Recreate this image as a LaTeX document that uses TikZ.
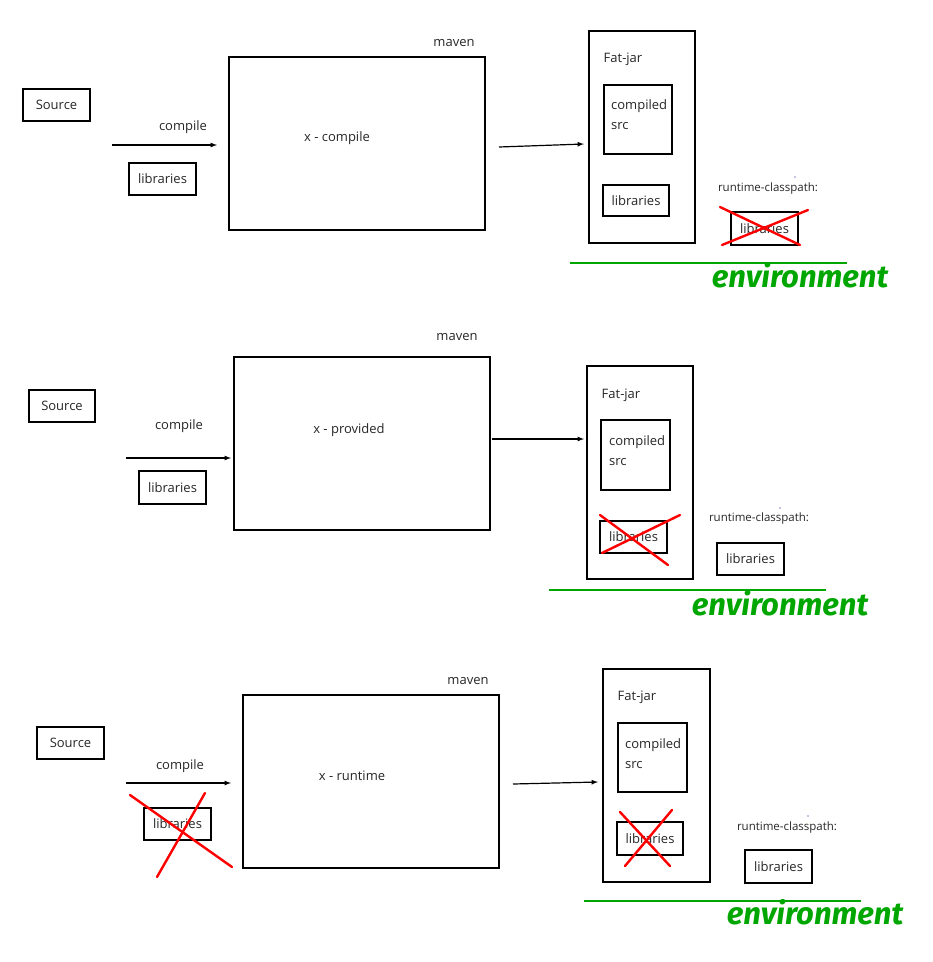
\documentclass[tikz,border=0pt]{standalone}
\usepackage{fontspec}
\setmainfont{Open Sans}
\newfontfamily\envfont{Fira Sans}
\begin{document}
\begin{tikzpicture}[x=1pt,y=-1pt,
  lbl/.style={font=\fontsize{13}{15}\selectfont, text=black!85, inner sep=0},
  twol/.style={font=\fontsize{13}{20}\selectfont, text=black!85, inner sep=0, align=left, anchor=north west},
  small/.style={font=\fontsize{11.5}{13}\selectfont, text=black!85, inner sep=0},
  bx/.style={draw, line width=1.2pt},
  thickbx/.style={draw, line width=2.2pt},
  arr/.style={-latex, line width=1.2pt},
  cross/.style={red, line width=2.4pt, line cap=round},
  grn/.style={draw=green!65!black, line width=1.2pt},
  env/.style={font=\envfont\itshape\bfseries\fontsize{31}{33}\selectfont, text=green!65!black, inner sep=0}]
\useasboundingbox (0,0) rectangle (933,962);

% Panel 1
\draw[bx] (23,89) rectangle (90,121); \node[lbl] (s1) at (56.5,105) {Source};
\node[lbl] (c1) at (183,127) {compile};
\coordinate (a1s) at (112,145); \coordinate (a1e) at (217,145);
\draw[arr] (a1s) -- (a1e);
\draw[bx] (129,163) rectangle (196,195); \node[lbl] (l1) at (162.5,179) {libraries};
\draw[bx] (229,57) rectangle (485,230); \node[lbl] (x1) at (337,138) {x - compile};
\node[lbl] (m1) at (454,43) {maven};
\coordinate (b1s) at (499,147); \coordinate (b1e) at (584,144);
\draw[arr] (b1s) -- (b1e);
\draw[bx] (589,31) rectangle (695,243); \node[lbl] (f1) at (623,59) {Fat-jar};
\draw[thickbx] (604,85) rectangle (672,154);
\node[twol] (cs1) at (611,99) {compiled\\src};
\draw[bx] (603,185) rectangle (669,216); \node[lbl] (fl1) at (636,201) {libraries};
\node[small] (r1) at (768,189) {runtime-classpath:};
\fill[blue!60!black] (795,177) circle (0.6);
\draw[bx] (731,212) rectangle (798,245); \node[lbl] (rl1) at (764.5,229) {libraries};
\draw[cross] (720,207) -- (800,245); \draw[cross] (722,245) -- (808,210);
\draw[grn] (570,263) -- (847,263);
\node[env] (e1) at (800,275) {environment};

% Panel 2
\draw[bx] (29,390) rectangle (95,422); \node[lbl] (s2) at (62,406) {Source};
\node[lbl] (c2) at (179,426) {compile};
\coordinate (a2s) at (126,458); \coordinate (a2e) at (231,458);
\draw[arr] (a2s) -- (a2e);
\draw[bx] (139,471) rectangle (206,504); \node[lbl] (l2) at (172.5,488) {libraries};
\draw[bx] (234,357) rectangle (490,530); \node[lbl] (x2) at (349,430) {x - provided};
\node[lbl] (m2) at (457,337) {maven};
\coordinate (b2s) at (492,439); \coordinate (b2e) at (584,439);
\draw[arr] (b2s) -- (b2e);
\draw[bx] (587,366) rectangle (693,579); \node[lbl] (f2) at (621,395) {Fat-jar};
\draw[thickbx] (601,420) rectangle (670,490);
\node[twol] (cs2) at (609,435) {compiled\\src};
\draw[bx] (600,521) rectangle (667,553); \node[lbl] (fl2) at (633.5,537) {libraries};
\draw[cross] (600,515) -- (668,565); \draw[cross] (602,553) -- (680,515);
\node[small] (r2) at (759,519) {runtime-classpath:};
\fill[blue!60!black] (780,508) circle (0.6);
\draw[bx] (717,543) rectangle (784,575); \node[lbl] (rl2) at (750.5,559) {libraries};
\draw[grn] (549,590) -- (826,590);
\node[env] (e2) at (780,603) {environment};

% Panel 3
\draw[bx] (37,727) rectangle (104,759); \node[lbl] (s3) at (70.5,743) {Source};
\node[lbl] (c3) at (180,766) {compile};
\coordinate (a3s) at (126,783); \coordinate (a3e) at (231,783);
\draw[arr] (a3s) -- (a3e);
\draw[bx] (144,808) rectangle (211,840); \node[lbl] (l3) at (177.5,824) {libraries};
\draw[cross] (130,795) -- (232,867); \draw[cross] (157,877) -- (205,793);
\draw[bx] (243,695) rectangle (499,868); \node[lbl] (x3) at (352,776) {x - runtime};
\node[lbl] (m3) at (468,681) {maven};
\coordinate (b3s) at (513,784); \coordinate (b3e) at (598,782);
\draw[arr] (b3s) -- (b3e);
\draw[bx] (603,669) rectangle (710,882); \node[lbl] (f3) at (637,697) {Fat-jar};
\draw[thickbx] (618,723) rectangle (687,792);
\node[twol] (cs3) at (625,738) {compiled\\src};
\draw[bx] (617,822) rectangle (683,855); \node[lbl] (fl3) at (650,839) {libraries};
\draw[cross] (620,812) -- (670,866); \draw[cross] (625,866) -- (672,810);
\node[small] (r3) at (787,828) {runtime-classpath:};
\fill[blue!60!black] (808,816) circle (0.6);
\draw[bx] (745,850) rectangle (812,883); \node[lbl] (rl3) at (778.5,867) {libraries};
\draw[grn] (584,901) -- (861,901);
\node[env] (e3) at (815,912) {environment};
\end{tikzpicture}
\end{document}
